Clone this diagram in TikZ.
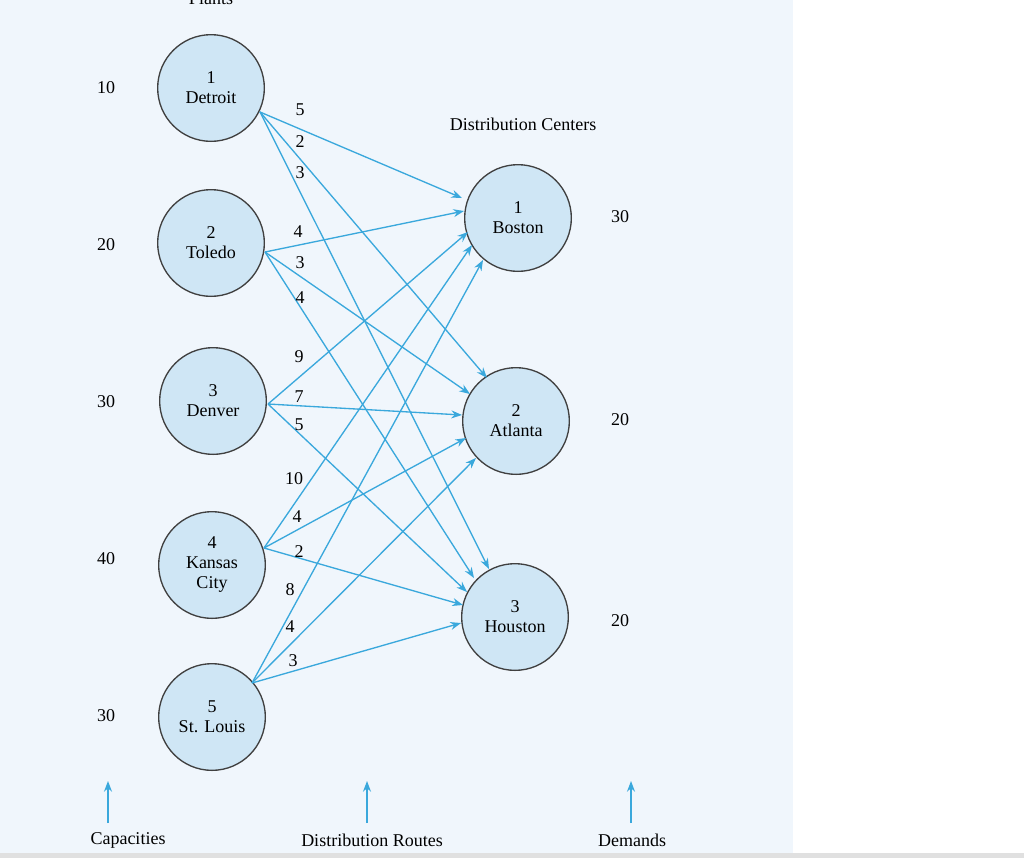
\documentclass[tikz,border=0pt]{standalone}
\usepackage{fontspec}
\setmainfont{Liberation Serif}
\usetikzlibrary{arrows.meta}
\definecolor{bg}{HTML}{F0F6FC}
\definecolor{nodefill}{HTML}{CFE6F5}
\definecolor{edge}{HTML}{3AA8DC}
\tikzset{
  city/.style={circle,draw=black!75,line width=1pt,fill=nodefill,minimum size=80pt,inner sep=0pt,align=center,font=\fontsize{13.5}{15}\selectfont},
  route/.style={draw=edge,line width=1pt,-{Stealth[length=8pt,width=6pt]}},
  lab/.style={font=\fontsize{13.5}{15}\selectfont,inner sep=0pt},
}
\begin{document}
\begin{tikzpicture}[x=0.75pt,y=-0.75pt]
\useasboundingbox (0,0) rectangle (1024,858);
\fill[bg] (0,0) rectangle (793,853);
\fill[black!12] (0,853) rectangle (1024,858);
% plants
\node[city] (p1) at (211,88) {1\\Detroit};
\node[city] (p2) at (211,243) {2\\Toledo};
\node[city] (p3) at (213,401) {3\\Denver};
\node[city] (p4) at (212,565) {4\\Kansas\\City};
\node[city] (p5) at (212,717) {5\\St. Louis};
% centers
\node[city] (c1) at (518,218) {1\\Boston};
\node[city] (c2) at (516,421) {2\\Atlanta};
\node[city] (c3) at (515,617) {3\\Houston};
% start points
\coordinate (s1) at (260,112);
\coordinate (s2) at (265,252);
\coordinate (s3) at (268,404);
\coordinate (s4) at (264,548);
\coordinate (s5) at (252,683);
% end points
\coordinate (b1) at (462,198); \coordinate (b2) at (464,211); \coordinate (b3) at (468,232); \coordinate (b4) at (472,245); \coordinate (b5) at (483,260);
\coordinate (a1) at (487,378); \coordinate (a2) at (470,394); \coordinate (a3) at (462,415); \coordinate (a4) at (466,438); \coordinate (a5) at (476,458);
\coordinate (h1) at (489,569); \coordinate (h2) at (474,578); \coordinate (h3) at (467,592); \coordinate (h4) at (463,605); \coordinate (h5) at (461,623);
\foreach \i in {1,...,5}{
  \draw[route] (s\i) -- (b\i);
  \draw[route] (s\i) -- (a\i);
  \draw[route] (s\i) -- (h\i);
}
% costs
\node[lab] (l11) at (300,110) {5};
\node[lab] (l12) at (300,142) {2};
\node[lab] (l13) at (300,173) {3};
\node[lab] (l21) at (298,232) {4};
\node[lab] (l22) at (300,263) {3};
\node[lab] (l23) at (300,298) {4};
\node[lab] (l31) at (299,357) {9};
\node[lab] (l32) at (299,397) {7};
\node[lab] (l33) at (299,425) {5};
\node[lab] (l41) at (294,479) {10};
\node[lab] (l42) at (297,517) {4};
\node[lab] (l43) at (299,552) {2};
\node[lab] (l51) at (290,590) {8};
\node[lab] (l52) at (290,627) {4};
\node[lab] (l53) at (293,661) {3};
% capacities
\node[lab] (k1) at (106,88) {10};
\node[lab] (k2) at (106,245) {20};
\node[lab] (k3) at (106,402) {30};
\node[lab] (k4) at (106,559) {40};
\node[lab] (k5) at (106,716) {30};
% demands
\node[lab] (d1) at (620,217) {30};
\node[lab] (d2) at (620,420) {20};
\node[lab] (d3) at (620,621) {20};
% headings
\node[lab] (hp) at (211,-2) {Plants};
\node[lab] (hd) at (523,124) {Distribution Centers};
\node[lab] (f1) at (128,840) {Capacities};
\node[lab] (f2) at (372,840) {Distribution Routes};
\node[lab] (f3) at (632,840) {Demands};
\coordinate (t1) at (108,781); \coordinate (u1) at (108,823);
\coordinate (t2) at (367,781); \coordinate (u2) at (367,823);
\coordinate (t3) at (631,781); \coordinate (u3) at (631,823);
\foreach \i in {1,2,3}{\draw[route] (u\i) -- (t\i);}
\end{tikzpicture}
\end{document}
